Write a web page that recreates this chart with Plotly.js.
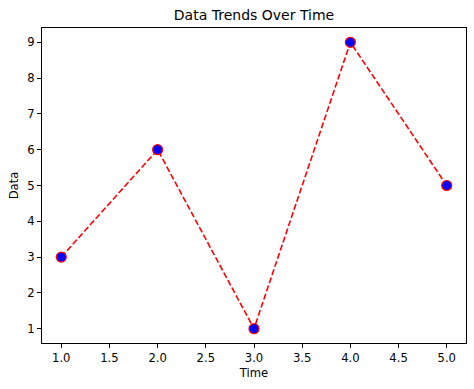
<!DOCTYPE html>
<html>
<head>
<meta charset="utf-8">
<script src="https://cdn.plot.ly/plotly-3.0.1.min.js"></script>
<style>html,body{margin:0;padding:0;background:#fff;}#chart{width:474px;height:389px;}</style>
</head>
<body>
<div id="chart"></div>
<script>
const timeValues = [1, 2, 3, 4, 5];
const dataValues = [3, 6, 1, 9, 5];

const trace = {
  x: timeValues,
  y: dataValues,
  type: 'scatter',
  mode: 'lines+markers',
  line: {color: 'red', dash: '6px,2.6px', width: 1.6},
  marker: {color: 'blue', size: 10, line: {color: 'red', width: 1.2}},
  hoverinfo: 'none'
};

const axisCommon = {
  showline: true, mirror: true, linecolor: '#000', linewidth: 1,
  ticks: 'outside', ticklen: 4, tickwidth: 1, tickcolor: '#000',
  showgrid: false, zeroline: false,
  tickfont: {family: 'DejaVu Sans', size: 11.6, color: '#000'}
};

const layout = {
  width: 474, height: 389,
  margin: {l: 41.5, r: 8.3, t: 27.5, b: 45.7},
  paper_bgcolor: '#fff', plot_bgcolor: '#fff',
  showlegend: false,
  title: {text: 'Data Trends Over Time', font: {family: 'DejaVu Sans', size: 14, color: '#000'}, x: 0.5, xanchor: 'center', y: 0.961, yanchor: 'middle', xref: 'paper'},
  xaxis: Object.assign({}, axisCommon, {
    range: [0.8, 5.2], dtick: 0.5, tick0: 1, tickformat: '.1f',
    title: {text: 'Time', font: {family: 'DejaVu Sans', size: 11.6, color: '#000'}, standoff: 4}
  }),
  yaxis: Object.assign({}, axisCommon, {
    range: [0.6, 9.4], dtick: 1, tick0: 1,
    title: {text: 'Data', font: {family: 'DejaVu Sans', size: 11.6, color: '#000'}, standoff: 6}
  })
};

Plotly.newPlot('chart', [trace], layout, {displayModeBar: false, staticPlot: true});
</script>
</body>
</html>
